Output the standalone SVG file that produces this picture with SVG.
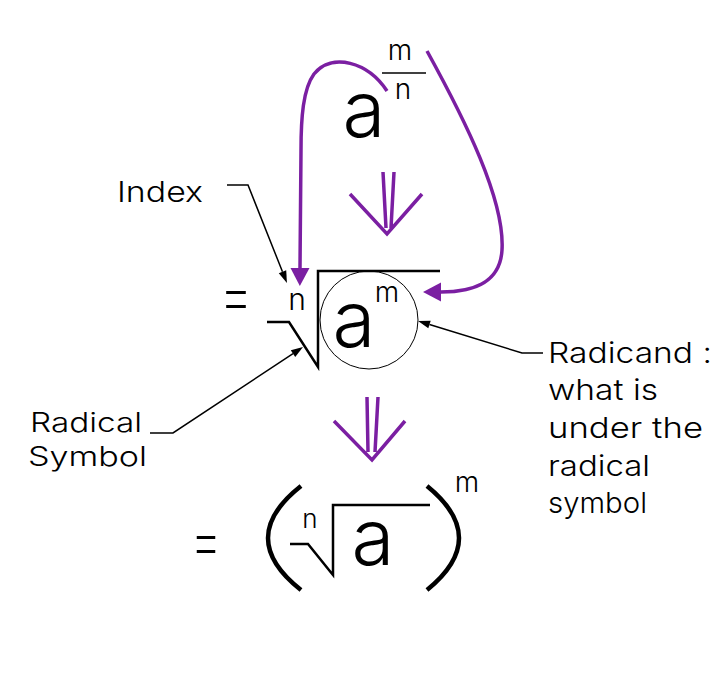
<svg xmlns="http://www.w3.org/2000/svg" width="724" height="679" viewBox="0 0 724 679">
<style>
.t{font-family:Inter,"Open Sans","Liberation Sans",sans-serif;font-weight:300;fill:#000}
.lab{font-size:29px}
.lab2{font-size:27px}
.big{font-size:78px}
.sm{font-size:28px}
.eq{font-family:Inter,"Liberation Sans",sans-serif;font-weight:250;font-size:70px}
.ink{fill:none;stroke:#000;stroke-width:2.5;stroke-linejoin:miter}
.pur{fill:none;stroke:#7b1fa2;stroke-width:3.5;stroke-linecap:butt}
.lead{fill:none;stroke:#000;stroke-width:1.5}
</style>
<defs>
<marker id="pa" markerUnits="userSpaceOnUse" markerWidth="18" markerHeight="19" refX="0" refY="9.5" orient="auto" overflow="visible">
<path d="M0,0 L18,9.5 L0,19 z" fill="#7b1fa2"/>
</marker>
<marker id="ba" markerUnits="userSpaceOnUse" markerWidth="12" markerHeight="8" refX="0" refY="4" orient="auto" overflow="visible">
<path d="M0,0 L12,4 L0,8 z" fill="#000"/>
</marker>
</defs>
<rect width="724" height="679" fill="#fff"/>

<g id="expr-top">
<text class="t big" x="364" y="137" text-anchor="middle">a</text>
<text class="t sm" x="400" y="60" text-anchor="middle">m</text>
<line x1="382" y1="73" x2="426" y2="73" stroke="#000" stroke-width="1.5"/>
<text class="t sm" x="403" y="99" text-anchor="middle">n</text>
</g>

<g id="expr-middle">
<text class="eq" x="236" y="319" text-anchor="middle" textLength="34" lengthAdjust="spacingAndGlyphs">=</text>
<text class="t" style="font-size:30px" x="297" y="310" text-anchor="middle">n</text>
<path class="ink" d="M267,322 L289,322 L318,367 L318,271 L440,271"/>
<circle cx="369" cy="320" r="49" fill="none" stroke="#000" stroke-width="1"/>
<text class="t big" x="354" y="347" text-anchor="middle">a</text>
<text class="t sm" x="387" y="302" text-anchor="middle">m</text>
</g>

<g id="expr-bottom">
<text class="eq" x="206" y="564" text-anchor="middle" textLength="32" lengthAdjust="spacingAndGlyphs">=</text>
<path d="M301,486 Q235,538 301,590" fill="none" stroke="#000" stroke-width="4.5"/>
<path d="M427,486 Q491,538 427,590" fill="none" stroke="#000" stroke-width="4.5"/>
<text class="t" style="font-size:26px" x="310" y="528" text-anchor="middle">n</text>
<path class="ink" d="M290,544 L308,544 L333,575 L333,505 L430,505"/>
<text class="t big" x="373" y="565" text-anchor="middle">a</text>
<text class="t sm" x="467" y="492" text-anchor="middle">m</text>
</g>

<g id="label-index">
<text class="t lab" x="117" y="202" textLength="86" lengthAdjust="spacingAndGlyphs">Index</text>
</g>
<g id="label-radical">
<text class="t lab2" x="30" y="432" textLength="112" lengthAdjust="spacingAndGlyphs">Radical</text>
<text class="t lab2" x="28" y="466" textLength="119" lengthAdjust="spacingAndGlyphs">Symbol</text>
</g>
<g id="label-radicand">
<text class="t lab" x="548" y="363" textLength="164" lengthAdjust="spacingAndGlyphs">Radicand :</text>
<text class="t lab" x="548" y="400" textLength="110" lengthAdjust="spacingAndGlyphs">what is</text>
<text class="t lab" x="548" y="438" textLength="155" lengthAdjust="spacingAndGlyphs">under the</text>
<text class="t lab" x="548" y="476" textLength="102" lengthAdjust="spacingAndGlyphs">radical</text>
<text class="t lab" x="548" y="513" textLength="99" lengthAdjust="spacingAndGlyphs">symbol</text>
</g>

<g id="connectors">
<path class="pur" d="M387,91 C368,62 332,52 314,74 C303,89 301,118 301,150 L300,268" marker-end="url(#pa)"/>
<path class="pur" d="M427,51 C465,120 505,200 502,250 C500,285 470,292 441,292" marker-end="url(#pa)"/>
<g class="pur">
<path d="M383,172 L386,228 M394,172 L391,228 M350,194 L387,234 L422,194"/>
<path d="M367,397 L368,452 M378,397 L375,452 M334,421 L372,460 L405,421"/>
</g>
<path class="lead" d="M227,185 L248,185 L282.5,271.8" marker-end="url(#ba)"/>
<path class="lead" d="M150,433 L173,433 L293,353.6" marker-end="url(#ba)"/>
<path class="lead" d="M543,353 L522,353 L429.5,324.5" marker-end="url(#ba)"/>
</g>
</svg>
